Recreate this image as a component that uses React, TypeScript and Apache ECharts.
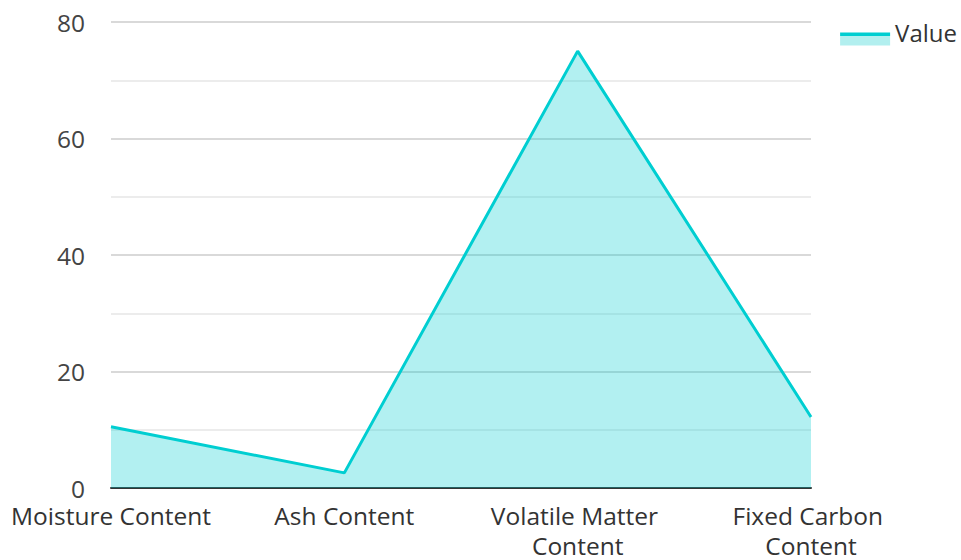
import React, { useEffect, useRef } from "react";
import * as echarts from "echarts";

const categories = ["Moisture Content", "Ash Content", "Volatile Matter Content", "Fixed Carbon Content"];
const values = [10.5, 2.6, 75.0, 12.2];
const seriesName = "Value";

export default function App() {
  const ref = useRef<HTMLDivElement>(null);
  useEffect(() => {
    if (!ref.current) return;
    const chart = echarts.init(ref.current, undefined, { renderer: "svg" });
    chart.setOption({
      animation: false,
      textStyle: { fontFamily: "Open Sans" },
      grid: { left: 111, right: 150, top: 22, bottom: 72, containLabel: false },
      legend: {
        data: [{ name: seriesName, icon: "rect" }],
        right: -1,
        top: 15,
        itemWidth: 50,
        itemHeight: 13,
        itemGap: 10,
        itemStyle: {
          color: new echarts.graphic.LinearGradient(0, 0, 0, 1, [
            { offset: 0, color: "#00CED1" },
            { offset: 0.24, color: "#00CED1" },
            { offset: 0.24, color: "#b2efef" },
            { offset: 1, color: "#b2efef" },
          ]),
          borderWidth: 0,
        },
        lineStyle: { width: 0, opacity: 0 },
        formatter: (name: string) => `{t|${name}}`,
        textStyle: {
          fontSize: 24,
          color: "#333",
          fontFamily: "Open Sans",
          rich: {
            t: { fontSize: 24, color: "#333", fontFamily: "Open Sans", padding: [0, 0, 14, 0] },
          },
        },
      },
      xAxis: {
        type: "category",
        data: categories,
        boundaryGap: false,
        axisLine: { show: true, lineStyle: { color: "#333", width: 2 } },
        axisTick: { show: false },
        axisLabel: {
          fontSize: 24.5,
          color: "#333",
          margin: 12,
          lineHeight: 30,
          width: 215,
          overflow: "break",
          interval: 0,
          fontFamily: "Open Sans",
        },
        splitLine: { show: false },
      },
      yAxis: {
        type: "value",
        min: 0,
        max: 80,
        interval: 20,
        axisLine: { show: false },
        axisTick: { show: false },
        axisLabel: { fontSize: 24.5, color: "#444", margin: 26, fontFamily: "Open Sans" },
        splitLine: { show: true, lineStyle: { color: "#ccc", width: 1.5 } },
        minorTick: { show: false, splitNumber: 2 },
        minorSplitLine: { show: true, lineStyle: { color: "#e6e6e6", width: 1.5 } },
      },
      series: [
        {
          name: seriesName,
          type: "line",
          data: values,
          symbol: "none",
          lineStyle: { color: "#00CED1", width: 3 },
          itemStyle: { color: "#00CED1" },
          areaStyle: { color: "#00CED1", opacity: 0.3 },
        },
      ],
    });
    return () => chart.dispose();
  }, []);
  return (
    <div
      ref={ref}
      style={{ width: 961, height: 560, position: "absolute", left: 0, top: 0 }}
    />
  );
}
